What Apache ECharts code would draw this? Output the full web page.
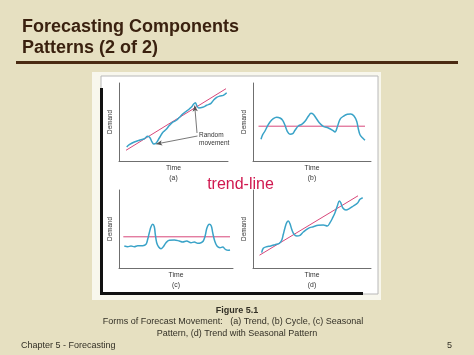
<!DOCTYPE html>
<html>
<head>
<meta charset="utf-8">
<script src="https://cdn.jsdelivr.net/npm/echarts@6/dist/echarts.min.js"></script>
<style>
html,body{margin:0;padding:0;background:#e6e0c1;}
#chart{width:474px;height:355px;}
</style>
</head>
<body>
<div id="chart"></div>
<script>
// Panel (a) Trend
const aTime = [7.7,10.3,15.3,20.3,25.3,28.7,31,32.7,34.7,37,40.3,43.7,47,50.3,53.7,57,60.3,63.7,67,70.3,73,74.7,76.3,77.7,79.7,83.7,87.7,92,94.7,97.7,101,104.3,107.7];
const aDemand = [14,16.3,19,20.7,22.3,24.7,23.3,19.7,17,17.7,23,28.5,31.5,35.5,38.8,40.5,43.5,47,49.5,52,54.5,57,58.3,55.7,53,53.7,55.7,57.7,61,63.7,65,65.7,68.3];
const aTrendTime = [7, 107];
const aTrendDemand = [10.7, 72.3];
// Panel (b) Cycle
const bTime = [8,9.7,12,14.3,17,20.3,23.7,27,29.7,32,34.3,37,39.7,42,45.3,48.7,52,55.3,58,60.3,63,66.3,70.3,75.3,79.7,82,84.3,87,90.3,94.3,97.7,101,103.7,105.3,107,109.7,112];
const bDemand = [21.7,26.3,30,34.7,39,42.3,43.7,43,40.7,35.7,29.7,26.7,27.3,30.7,35,36.7,39.7,44.7,47.7,46.7,43,38.3,34.7,33,30.7,29,34,41.7,44.7,46.7,47,45,39.7,32.3,26.3,23,20.7];
const bTrendTime = [5.5, 112];
const bTrendDemand = [34.8, 34.8];
// Panel (c) Seasonal pattern
const cTime = [5.3,8.7,12,15.3,18.7,23.7,27,28.7,30.3,32,33.7,35.3,36.3,37.7,39.7,42,44.3,47,50.3,55.3,60.3,63.7,67.7,72,75.3,78.7,82,84.3,86.3,88,90.3,92.3,93.7,95.7,98,101,103.7,106.3,109.3,111];
const cDemand = [22,21.3,22,21.3,22.3,22.3,23.7,28.7,35.3,41.3,43.7,41.3,33.7,25.3,21,19.3,21.3,25.3,27.7,28,27,26,27,25.3,26,24.7,25.3,27,32.7,40.3,43.7,42,35.3,27,22,20.3,21,18.7,17.7,18];
const cTrendTime = [4.3, 111];
const cTrendDemand = [31.2, 31.2];
// Panel (d) Trend with seasonal pattern
const dTime = [8.7,10.3,13.7,17.7,22,26.3,28.7,30.3,32,33.7,35.3,37,38.7,41,43.7,47,50.3,55.3,60.3,65.3,70.3,74.3,77,79.7,82,84.3,86.3,87.7,89.7,93,96.3,100.3,104.3,107,109.7];
const dDemand = [15.3,19.7,21.3,22,23.3,24.7,27.7,33.7,40.3,45.3,47,44.3,38.7,33.7,32,32.7,36,39.7,41.3,42.7,43,42,45.3,50.3,55.3,62,67,65.3,60.3,58,59.3,62,64.7,68.7,70.3];
const dTrendTime = [6.5, 105];
const dTrendDemand = [12.8, 72.2];

const axisNames = ['(a)','(b)','(c)','(d)'];
const zip = (xs, ys) => xs.map((x, i) => [x, ys[i]]);

const BLUE = '#3aa3c8';
const PINK = '#d8477a';
const AXC = '#6f6f6f';
const FONT = 'Liberation Sans, Arial, sans-serif';

const grids = [
  {left:119, top:83, width:109, height:78},
  {left:253, top:83, width:118, height:78},
  {left:119, top:190, width:114, height:78},
  {left:253, top:190, width:118, height:78}
];

const xAxes = grids.map((g, i) => ({
  type:'value', gridIndex:i, min:0, max:g.width,
  axisLine:{show:true, onZero:false, lineStyle:{color:AXC, width:1}},
  axisTick:{show:false}, axisLabel:{show:false}, splitLine:{show:false},
  name:'Time\n' + axisNames[i], nameLocation:'middle', nameGap:2,
  nameTextStyle:{fontSize:6.8, color:'#333', fontFamily:FONT, lineHeight:10, verticalAlign:'top'}
}));
const yAxes = grids.map((g, i) => ({
  type:'value', gridIndex:i, min:0, max:g.height,
  axisLine:{show:true, onZero:false, lineStyle:{color:AXC, width:1}},
  axisTick:{show:false}, axisLabel:{show:false}, splitLine:{show:false},
  name:'Demand', nameLocation:'middle', nameGap:6, nameRotate:90,
  nameTextStyle:{fontSize:6.3, color:'#333', fontFamily:FONT}
}));

const blueSets = [zip(aTime,aDemand), zip(bTime,bDemand), zip(cTime,cDemand), zip(dTime,dDemand)];
const trendSets = [zip(aTrendTime,aTrendDemand), zip(bTrendTime,bTrendDemand), zip(cTrendTime,cTrendDemand), zip(dTrendTime,dTrendDemand)];

const series = [];
trendSets.forEach((d, i) => {
  series.push({type:'line', xAxisIndex:i, yAxisIndex:i, data:d, showSymbol:false, silent:true,
    lineStyle:{color:PINK, width:1}, z:2});
});
blueSets.forEach((d, i) => {
  const s = {type:'line', xAxisIndex:i, yAxisIndex:i, data:d, showSymbol:false, smooth:0.35, silent:true,
    lineStyle:{color:BLUE, width:1.5}, z:3};
  if (i === 0) {
    s.markLine = {
      silent:true, symbol:['none','arrow'], symbolSize:[4,6], animation:false,
      lineStyle:{color:'#555', width:0.8, type:'solid'}, label:{show:false},
      data:[
        [{coord:[78,28]},{coord:[75.7,55.5]}],
        [{coord:[78.5,25]},{coord:[37.2,17]}]
      ]
    };
  }
  series.push(s);
});

const chart = echarts.init(document.getElementById('chart'), null, {renderer:'canvas'});
chart.setOption({
  backgroundColor:'#e6e0c1',
  animation:false,
  title:{
    text:'Forecasting Components\nPatterns (2 of 2)',
    left:17, top:12,
    textStyle:{fontSize:18, fontWeight:'bold', color:'#3a210f', fontFamily:FONT, lineHeight:21}
  },
  grid:grids,
  xAxis:xAxes,
  yAxis:yAxes,
  series:series,
  graphic:[
    {type:'rect', z:-10, shape:{x:16, y:61, width:442, height:3}, style:{fill:'#4a2a12'}},
    {type:'rect', z:-10, shape:{x:92, y:72, width:289, height:228}, style:{fill:'rgba(250,249,242,0.9)'}},
    {type:'rect', z:-9, shape:{x:101, y:76, width:277, height:218}, style:{fill:'#ffffff', stroke:'#b8b8b8', lineWidth:1}},
    {type:'rect', z:-8, shape:{x:100, y:88, width:3, height:207}, style:{fill:'#111'}},
    {type:'rect', z:-8, shape:{x:100, y:292, width:263, height:3}, style:{fill:'#111'}},
    {type:'text', z:10, style:{x:199, y:131.5, text:'Random\nmovement', fontSize:6.5, lineHeight:8, fill:'#333', font:'6.5px ' + FONT}},
    {type:'text', z:10, style:{x:240.5, y:185, text:'trend-line', textAlign:'center', textVerticalAlign:'middle', fill:'#d0184f', font:'16px ' + FONT}},
    {type:'text', z:10, style:{x:237, y:311, text:'Figure 5.1', textAlign:'center', textVerticalAlign:'middle', fill:'#333026', font:'bold 9px ' + FONT}},
    {type:'text', z:10, style:{x:233, y:322, text:'Forms of Forecast Movement:   (a) Trend, (b) Cycle, (c) Seasonal', textAlign:'center', textVerticalAlign:'middle', fill:'#333026', font:'9px ' + FONT}},
    {type:'text', z:10, style:{x:237, y:333.5, text:'Pattern, (d) Trend with Seasonal Pattern', textAlign:'center', textVerticalAlign:'middle', fill:'#333026', font:'9px ' + FONT}},
    {type:'text', z:10, style:{x:21, y:346, text:'Chapter 5 - Forecasting', textVerticalAlign:'middle', fill:'#333026', font:'9px ' + FONT}},
    {type:'text', z:10, style:{x:452, y:346, text:'5', textAlign:'right', textVerticalAlign:'middle', fill:'#333026', font:'9px ' + FONT}}
  ]
});
</script>
</body>
</html>
